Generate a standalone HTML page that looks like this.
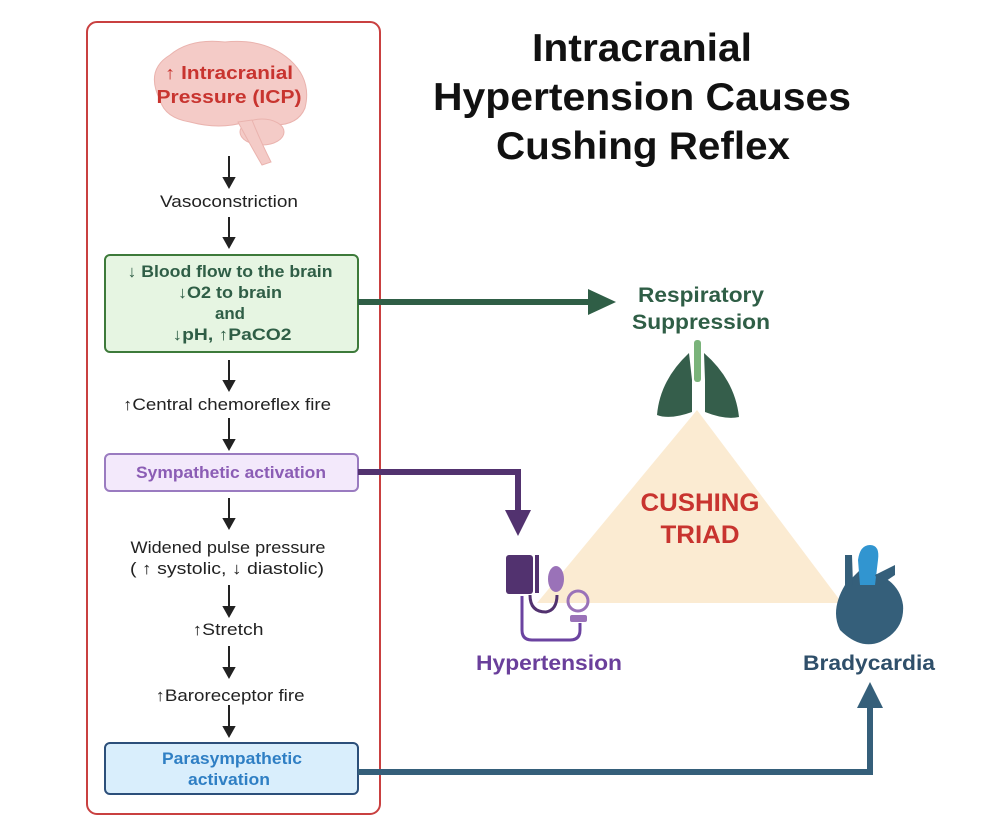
<!DOCTYPE html>
<html><head><meta charset="utf-8"><style>
html,body{margin:0;padding:0;background:#fff;}
svg{display:block;font-family:"Liberation Sans",sans-serif;}
</style></head><body>
<svg width="986" height="839" viewBox="0 0 986 839" xmlns="http://www.w3.org/2000/svg">
<rect x="87" y="22" width="293" height="792" rx="10" fill="#fff" stroke="#c94040" stroke-width="2"/>
<g fill="#f4cbc7" stroke="#eab3ae" stroke-width="1">
<path d="M160 100 Q145 70 170 55 Q190 38 225 42 Q265 38 290 60 Q312 80 305 108 Q298 125 275 125 L245 122 Q220 130 190 122 Q165 118 160 100 Z"/>
<ellipse cx="262" cy="132" rx="22" ry="13"/>
<path d="M238 122 Q252 148 262 165 L271 162 Q260 140 252 120 Z"/>
</g>
<text x="229" y="79" text-anchor="middle" font-size="18" font-weight="bold" fill="#c8342f" textLength="128" lengthAdjust="spacingAndGlyphs">↑ Intracranial</text>
<text x="229" y="103" text-anchor="middle" font-size="18" font-weight="bold" fill="#c8342f" textLength="145" lengthAdjust="spacingAndGlyphs">Pressure (ICP)</text>
<g stroke="#222" stroke-width="2" fill="#222">
<line x1="229" y1="156" x2="229" y2="180"/><path d="M224 178 L234 178 L229 187 Z"/>
<line x1="229" y1="217" x2="229" y2="240"/><path d="M224 238 L234 238 L229 247 Z"/>
<line x1="229" y1="360" x2="229" y2="383"/><path d="M224 381 L234 381 L229 390 Z"/>
<line x1="229" y1="418" x2="229" y2="442"/><path d="M224 440 L234 440 L229 449 Z"/>
<line x1="229" y1="498" x2="229" y2="521"/><path d="M224 519 L234 519 L229 528 Z"/>
<line x1="229" y1="585" x2="229" y2="609"/><path d="M224 607 L234 607 L229 616 Z"/>
<line x1="229" y1="646" x2="229" y2="670"/><path d="M224 668 L234 668 L229 677 Z"/>
<line x1="229" y1="705" x2="229" y2="729"/><path d="M224 727 L234 727 L229 736 Z"/>
</g>
<g font-size="16.5" fill="#222" text-anchor="middle">
<text x="229" y="207" textLength="138" lengthAdjust="spacingAndGlyphs">Vasoconstriction</text>
<text x="227" y="410" textLength="208" lengthAdjust="spacingAndGlyphs">↑Central chemoreflex fire</text>
<text x="228" y="553" textLength="195" lengthAdjust="spacingAndGlyphs">Widened pulse pressure</text>
<text x="227" y="574" textLength="194" lengthAdjust="spacingAndGlyphs">( ↑ systolic, ↓ diastolic)</text>
<text x="228" y="635" textLength="71" lengthAdjust="spacingAndGlyphs">↑Stretch</text>
<text x="230" y="701" textLength="149" lengthAdjust="spacingAndGlyphs">↑Baroreceptor fire</text>
</g>
<rect x="105" y="255" width="253" height="97" rx="5" fill="#e6f5e2" stroke="#3d7a3a" stroke-width="2"/>
<g font-size="16.5" font-weight="bold" fill="#2f5e46" text-anchor="middle">
<text x="230" y="277" textLength="205" lengthAdjust="spacingAndGlyphs">↓ Blood flow to the brain</text>
<text x="230" y="298" textLength="104" lengthAdjust="spacingAndGlyphs">↓O2 to brain</text>
<text x="230" y="319" textLength="30" lengthAdjust="spacingAndGlyphs">and</text>
<text x="232" y="340" textLength="119" lengthAdjust="spacingAndGlyphs">↓pH, ↑PaCO2</text>
</g>
<rect x="105" y="454" width="253" height="37" rx="5" fill="#f3e9fb" stroke="#9a7bc0" stroke-width="2"/>
<text x="231" y="478" text-anchor="middle" font-size="16.5" font-weight="bold" fill="#8b5db5" textLength="190" lengthAdjust="spacingAndGlyphs">Sympathetic activation</text>
<rect x="105" y="743" width="253" height="51" rx="5" fill="#d9eefc" stroke="#2c4f7a" stroke-width="2"/>
<text x="232" y="764" text-anchor="middle" font-size="16.5" font-weight="bold" fill="#2f7fc4" textLength="140" lengthAdjust="spacingAndGlyphs">Parasympathetic</text>
<text x="229" y="785" text-anchor="middle" font-size="16.5" font-weight="bold" fill="#2f7fc4" textLength="82" lengthAdjust="spacingAndGlyphs">activation</text>
<g font-size="39" font-weight="bold" fill="#111" text-anchor="middle">
<text x="642" y="61" textLength="220" lengthAdjust="spacingAndGlyphs">Intracranial</text>
<text x="642" y="110" textLength="418" lengthAdjust="spacingAndGlyphs">Hypertension Causes</text>
<text x="643" y="159" textLength="294" lengthAdjust="spacingAndGlyphs">Cushing Reflex</text>
</g>
<path d="M697 410 L842 603 L537 603 Z" fill="#fbebd2"/>
<text x="700" y="511" text-anchor="middle" font-size="25" font-weight="bold" fill="#c8342f" textLength="119" lengthAdjust="spacingAndGlyphs">CUSHING</text>
<text x="700" y="543" text-anchor="middle" font-size="25" font-weight="bold" fill="#c8342f" textLength="79" lengthAdjust="spacingAndGlyphs">TRIAD</text>
<line x1="358" y1="302" x2="592" y2="302" stroke="#2f5e46" stroke-width="6"/>
<path d="M588 289 L616 302 L588 315 Z" fill="#2f5e46"/>
<text x="701" y="302" text-anchor="middle" font-size="21" font-weight="bold" fill="#2f5e46" textLength="126" lengthAdjust="spacingAndGlyphs">Respiratory</text>
<text x="701" y="329" text-anchor="middle" font-size="21" font-weight="bold" fill="#2f5e46" textLength="138" lengthAdjust="spacingAndGlyphs">Suppression</text>
<rect x="694" y="340" width="7" height="42" rx="3" fill="#7ab37a"/>
<path d="M689 353 Q660 380 657 415 Q670 420 692 412 L692 380 Z" fill="#355e4b"/>
<path d="M704 353 Q735 380 739 417 Q725 420 705 412 L705 380 Z" fill="#355e4b"/>
<path d="M358 472 L518 472 L518 514" fill="none" stroke="#52326f" stroke-width="6"/>
<path d="M505 510 L531 510 L518 536 Z" fill="#52326f"/>
<rect x="506" y="555" width="27" height="39" rx="3" fill="#52326f"/>
<rect x="535" y="555" width="4" height="38" fill="#52326f"/>
<ellipse cx="556" cy="579" rx="8" ry="13" fill="#9a72b8"/>
<circle cx="578" cy="601" r="10" fill="none" stroke="#9a72b8" stroke-width="3"/>
<rect x="570" y="615" width="17" height="7" rx="2" fill="#9a72b8"/>
<path d="M522 596 L522 630 Q522 640 532 640 L570 640 Q580 640 580 630 L580 623" fill="none" stroke="#6b43a0" stroke-width="3"/>
<path d="M530 595 Q530 612 546 612 Q557 610 557 595" fill="none" stroke="#52326f" stroke-width="3"/>
<text x="549" y="670" text-anchor="middle" font-size="21" font-weight="bold" fill="#6a3f9b" textLength="146" lengthAdjust="spacingAndGlyphs">Hypertension</text>
<path d="M845 585 Q830 610 840 630 Q860 650 880 642 Q905 630 903 605 Q900 585 880 575 L860 570 Z" fill="#355f7a"/>
<path d="M845 555 L852 555 L853 585 L845 590 Z" fill="#355f7a"/>
<path d="M858 560 Q860 545 870 545 Q880 545 878 560 L875 585 L860 585 Z" fill="#3195d0"/>
<path d="M875 575 L895 565 L895 575 L880 585 Z" fill="#355f7a"/>
<text x="869" y="670" text-anchor="middle" font-size="21" font-weight="bold" fill="#2f4f6a" textLength="132" lengthAdjust="spacingAndGlyphs">Bradycardia</text>
<path d="M358 772 L870 772 L870 705" fill="none" stroke="#355f7a" stroke-width="6"/>
<path d="M857 708 L883 708 L870 682 Z" fill="#355f7a"/>
</svg>
</body></html>
